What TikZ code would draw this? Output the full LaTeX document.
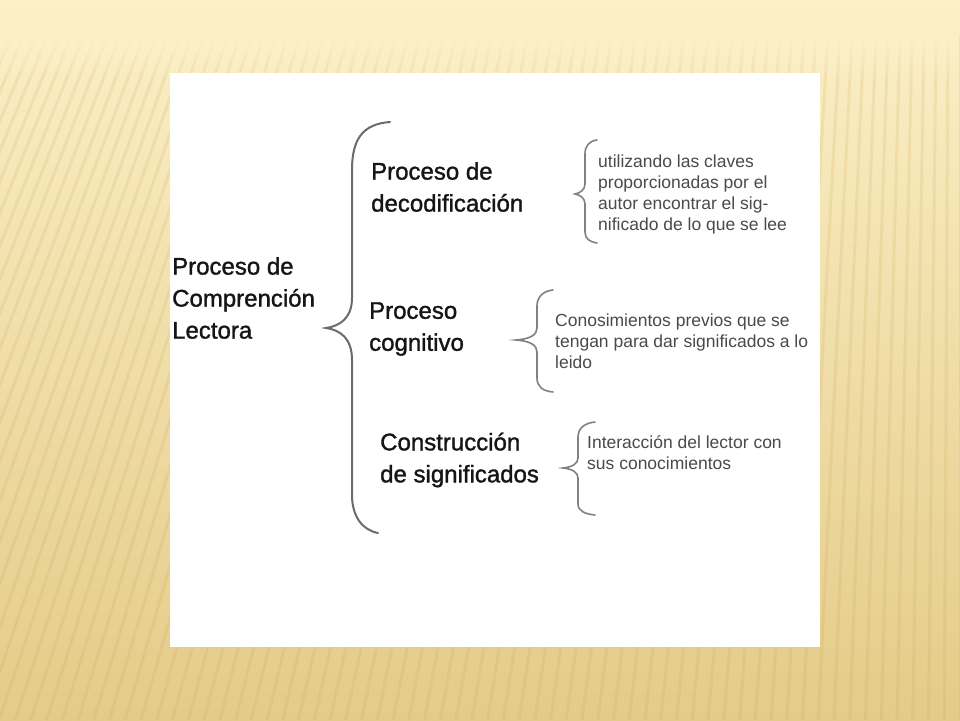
\documentclass[tikz,border=0pt]{standalone}
\usepackage{fontspec}
\setmainfont{Liberation Sans}
\newfontfamily\heavysans[FakeBold=1.3]{Liberation Sans}
\usetikzlibrary{positioning, fadings}
\definecolor{paperTop}{HTML}{FCF0C8}
\definecolor{paperBot}{HTML}{E4CB88}
\definecolor{stripeCol}{HTML}{C9A24E}
\definecolor{braceGray}{HTML}{6B6B6B}
\definecolor{textDark}{HTML}{151515}
\definecolor{textGray}{HTML}{4A4A4A}
\tikzset{
  maintext/.style={anchor=west, align=left, inner sep=0pt, text=textDark, font=\heavysans\fontsize{24}{32}\selectfont},
  notetext/.style={anchor=west, align=left, inner sep=0pt, text=textGray, font=\fontsize{17.5}{21}\selectfont},
  bigbrace/.style={draw=braceGray, line width=2pt, line cap=round},
  smallbrace/.style={draw=braceGray!85, line width=1.6pt, line cap=round},
  stripe/.style={stripeCol, opacity=0.16, line width=3pt}
}
\begin{document}
\begin{tikzpicture}[x=1pt, y=-1pt]
\useasboundingbox (0,0) rectangle (960,720);
% background
\shade[top color=paperTop, bottom color=paperBot] (0,0) rectangle (960,720);
\begin{scope}
\clip (0,35) rectangle (960,720);
\foreach \i in {0,12,...,1260} {
  \pgfmathsetmacro{\j}{\i-300*(1-\i/960)}
  \draw[stripe] (\i,35) -- (\j,720);
}
\end{scope}
\fill[paperTop, path fading=south] (0,34) rectangle (960,80);
\fill[white] (170,73) rectangle (820,647);

% texts
\node[maintext] (comp) at (172,298) {Proceso de\\Comprención\\Lectora};
\node[maintext] (deco) at (371,187) {Proceso de\\decodificación};
\node[maintext] (cogn) at (369,329) {Proceso\\cognitivo};
\node[maintext] (cons) at (380,460) {Construcción\\de significados};
\node[notetext] (util) at (598,194) {utilizando las claves\\proporcionadas por el\\autor encontrar el sig-\\nificado de lo que se lee};
\node[notetext] (cono) at (555,341) {Conosimientos previos que se\\tengan para dar significados a lo\\leido};
\node[notetext] (inter) at (587,453) {Interacción del lector con\\sus conocimientos};

% braces
\coordinate (bigtop) at (390,122);
\coordinate (bigtip) at (326,328);
\coordinate (bigbot) at (378,533);
\draw[bigbrace] (bigtop) .. controls (362,124) and (352,140) .. (352,170) -- (352,298)
  .. controls (352,318) and (340,326) .. (bigtip)
  .. controls (340,330) and (352,338) .. (352,360) -- (352,495)
  .. controls (352,516) and (362,530) .. (bigbot);

\coordinate (utiltop) at (597,140);
\coordinate (utiltip) at (575,194);
\coordinate (utilbot) at (597,243);
\draw[smallbrace] (utiltop) .. controls (589,141) and (585,146) .. (585,154) -- (585,184)
  .. controls (585,190) and (580,193) .. (utiltip)
  .. controls (580,195) and (585,198) .. (585,204) -- (585,232)
  .. controls (585,239) and (590,242) .. (utilbot);

\coordinate (conotop) at (553,290);
\coordinate (conotip) at (516,340);
\coordinate (conobot) at (553,392);
\draw[smallbrace] (conotop) .. controls (543,291) and (537,297) .. (537,306) -- (537,328)
  .. controls (537,335) and (530,339) .. (conotip)
  .. controls (530,341) and (537,345) .. (537,352) -- (537,378)
  .. controls (537,387) and (543,391) .. (conobot);

\coordinate (intertop) at (595,422);
\coordinate (intertip) at (563,468);
\coordinate (interbot) at (595,515);
\draw[smallbrace] (intertop) .. controls (585,423) and (578,428) .. (578,437) -- (578,458)
  .. controls (578,464) and (572,467) .. (intertip)
  .. controls (572,469) and (578,472) .. (578,478) -- (578,504)
  .. controls (578,511) and (585,514) .. (interbot);
\end{tikzpicture}
\end{document}
